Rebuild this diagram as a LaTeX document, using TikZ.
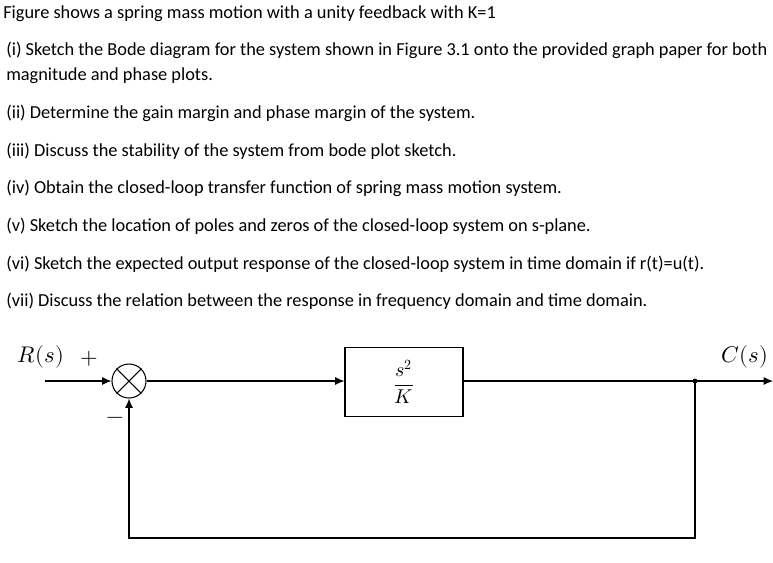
\documentclass[tikz,border=0pt]{standalone}
\usepackage{fontspec}
\setmainfont{Carlito}
\usepackage{unicode-math}
\setmathfont{Latin Modern Math}
\usetikzlibrary{arrows.meta}
\begin{document}
\begin{tikzpicture}[x=0.75pt,y=-0.75pt,
  txt/.style={anchor=base west,inner sep=0,font=\fontsize{13.75pt}{16pt}\selectfont},
  lbl/.style={inner sep=0,font=\fontsize{17pt}{19pt}\selectfont},
  sig/.style={-{Latex[length=7pt,width=6pt]},line width=0.8pt},
  wire/.style={line width=0.8pt}]
\useasboundingbox (0,0) rectangle (773,562);
\node[txt] (t0) at (3,18) {Figure shows a spring mass motion with a unity feedback with K=1};
\node[txt] (t1) at (6,55) {(i) Sketch the Bode diagram for the system shown in Figure 3.1 onto the provided graph paper for both};
\node[txt] (t1b) at (6,80) {magnitude and phase plots.};
\node[txt] (t2) at (6,118) {(ii) Determine the gain margin and phase margin of the system.};
\node[txt] (t3) at (6,156) {(iii) Discuss the stability of the system from bode plot sketch.};
\node[txt] (t4) at (6,193) {(iv) Obtain the closed-loop transfer function of spring mass motion system.};
\node[txt] (t5) at (6,231) {(v) Sketch the location of poles and zeros of the closed-loop system on s-plane.};
\node[txt] (t6) at (6,269) {(vi) Sketch the expected output response of the closed-loop system in time domain if r(t)=u(t).};
\node[txt] (t7) at (6,306) {(vii) Discuss the relation between the response in frequency domain and time domain.};

\node[draw,circle,minimum size=25.5pt,inner sep=0,wire] (sum) at (129,381) {};
\draw[wire] (sum.north east) -- (sum.south west) (sum.north west) -- (sum.south east);
\node[draw,wire,minimum width=88.5pt,minimum height=52pt,inner sep=0,font=\fontsize{15pt}{17pt}\selectfont] (G) at (404,382)
  {$\dfrac{s^2}{K}$};
\coordinate (in) at (45,381);
\coordinate (tap) at (695,381);
\coordinate (out) at (773,381);
\coordinate (bl) at (129,538);
\coordinate (br) at (695,538);
\draw[sig] (in) -- (sum.west);
\draw[sig] (sum.east) -- (G.west |- sum.east);
\draw[wire] (G.east |- tap) -- (tap);
\draw[sig] (tap) -- (out);
\fill (tap) circle (1.8pt);
\draw[sig] (tap) -- (br) -- (bl) -- (sum.south);
\node[lbl] (R) at (41,357) {$R(s)$};
\node[lbl] (plus) at (89,359) {$+$};
\node[lbl] (minus) at (115,420) {$-$};
\node[lbl] (C) at (745,357) {$C(s)$};
\end{tikzpicture}
\end{document}
